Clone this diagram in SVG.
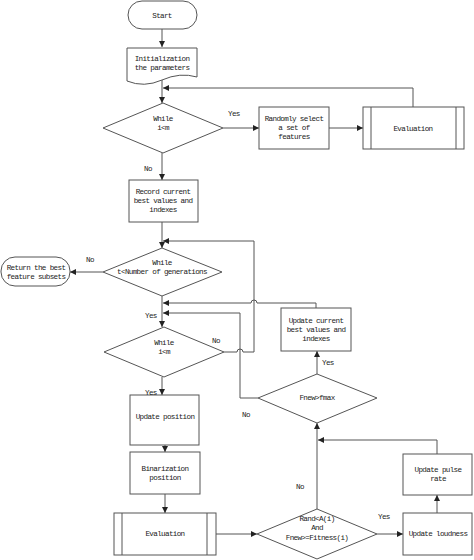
<svg xmlns="http://www.w3.org/2000/svg" width="474" height="560" viewBox="0 0 474 560">
<style>
.s{fill:#fff;stroke:#555;stroke-width:1}
.c{fill:none;stroke:#555;stroke-width:1}
text{font-family:"Liberation Mono",monospace;font-size:7.6px;letter-spacing:-0.65px;fill:#222;text-anchor:middle}
.l{text-anchor:start}
</style>
<defs>
<marker id="a" viewBox="0 0 10 10" refX="10" refY="5" markerWidth="6" markerHeight="6" markerUnits="userSpaceOnUse" orient="auto">
<path d="M0,0 L10,5 L0,10 z" fill="#222"/>
</marker>
</defs>
<rect width="474" height="560" fill="#fff"/>
<g id="connectors">
<path class="c" d="M162,29 V47" marker-end="url(#a)"/>
<path class="c" d="M162,80 V103" marker-end="url(#a)"/>
<path class="c" d="M413,107 V88 H163" marker-end="url(#a)"/>
<path class="c" d="M223,128 H259" marker-end="url(#a)"/>
<path class="c" d="M329,128 H363" marker-end="url(#a)"/>
<path class="c" d="M162,153 V180" marker-end="url(#a)"/>
<path class="c" d="M162,222 V248" marker-end="url(#a)"/>
<path class="c" d="M103,272 H70" marker-end="url(#a)"/>
<path class="c" d="M162,296 V327" marker-end="url(#a)"/>
<path class="c" d="M224,352 H237 A3,3 0 0 1 243,352 H254 V241 H163" marker-end="url(#a)"/>
<path class="c" d="M316,308 V303 H257 A3,3 0 0 0 251,303 H163" marker-end="url(#a)"/>
<path class="c" d="M258,398 H240 V313 H163" marker-end="url(#a)"/>
<path class="c" d="M317,374 V351" marker-end="url(#a)"/>
<path class="c" d="M162,377 V395" marker-end="url(#a)"/>
<path class="c" d="M165,445 V452" marker-end="url(#a)"/>
<path class="c" d="M165,494 V513" marker-end="url(#a)"/>
<path class="c" d="M216,534 H257" marker-end="url(#a)"/>
<path class="c" d="M317,509 V423" marker-end="url(#a)"/>
<path class="c" d="M437,454 V440 H318" marker-end="url(#a)"/>
<path class="c" d="M377,534 H403" marker-end="url(#a)"/>
<path class="c" d="M437,513 V495" marker-end="url(#a)"/>
</g>
<g id="start"><rect class="s" x="128" y="1" width="69" height="28" rx="14"/><text x="162" y="18">Start</text></g>
<g id="init"><path class="s" d="M127,48 H197 V77 Q180,72 162,80 T127,81 Z"/><text x="162" y="61">Initialization</text><text x="162" y="70">the parameters</text></g>
<g id="while1"><path class="s" d="M163,103 L223,128 L163,153 L103,128 Z"/><text x="163" y="121">While</text><text x="163" y="130">i&lt;m</text></g>
<g id="random"><rect class="s" x="259" y="107" width="70" height="42"/><text x="294" y="121">Randomly select</text><text x="294" y="130">a set of</text><text x="294" y="139">features</text></g>
<g id="eval1"><rect class="s" x="363" y="107" width="101" height="42"/><path class="c" d="M371,107 V149 M456,107 V149"/><text x="413" y="131">Evaluation</text></g>
<g id="record"><rect class="s" x="129" y="180" width="69" height="42"/><text x="163" y="194">Record current</text><text x="163" y="203">best values and</text><text x="163" y="212">indexes</text></g>
<g id="while2"><path class="s" d="M162,248 L222,272 L162,296 L103,272 Z"/><text x="162" y="265">While</text><text x="162" y="274">t&lt;Number of generations</text></g>
<g id="return"><rect class="s" x="1" y="257" width="69" height="29" rx="14"/><text x="36" y="270">Return the best</text><text x="36" y="279">feature subsets</text></g>
<g id="while3"><path class="s" d="M164,327 L224,352 L164,377 L104,352 Z"/><text x="164" y="345">While</text><text x="164" y="354">i&lt;m</text></g>
<g id="updatecur"><rect class="s" x="281" y="308" width="70" height="43"/><text x="316" y="323">Update current</text><text x="316" y="332">best values and</text><text x="316" y="341">indexes</text></g>
<g id="fnew"><path class="s" d="M317,374 L377,398 L317,423 L258,398 Z"/><text x="317" y="400">Fnew&gt;fmax</text></g>
<g id="updatepos"><rect class="s" x="130" y="395" width="69" height="50"/><text x="165" y="419">Update position</text></g>
<g id="binar"><rect class="s" x="130" y="452" width="70" height="42"/><text x="165" y="471">Binarization</text><text x="165" y="480">position</text></g>
<g id="eval2"><rect class="s" x="114" y="513" width="102" height="42"/><path class="c" d="M122,513 V555 M207,513 V555"/><text x="165" y="536">Evaluation</text></g>
<g id="rand"><path class="s" d="M317,509 L377,534 L317,559 L257,534 Z"/><text x="317" y="521">Rand&lt;A(i)</text><text x="317" y="530">And</text><text x="317" y="540">Fnew&gt;=Fitness(i)</text></g>
<g id="loud"><rect class="s" x="403" y="513" width="69" height="42"/><text x="438" y="536">Update loudness</text></g>
<g id="pulse"><rect class="s" x="403" y="454" width="69" height="41"/><text x="438" y="472">Update pulse</text><text x="438" y="481">rate</text></g>
<g id="labels">
<text class="l" x="228" y="116">Yes</text>
<text class="l" x="144" y="171">No</text>
<text class="l" x="86" y="262">No</text>
<text class="l" x="145" y="318">Yes</text>
<text class="l" x="212" y="343">No</text>
<text class="l" x="145" y="395">Yes</text>
<text class="l" x="242" y="417">No</text>
<text class="l" x="322" y="365">Yes</text>
<text class="l" x="296" y="489">No</text>
<text class="l" x="378" y="519">Yes</text>
</g>
</svg>
